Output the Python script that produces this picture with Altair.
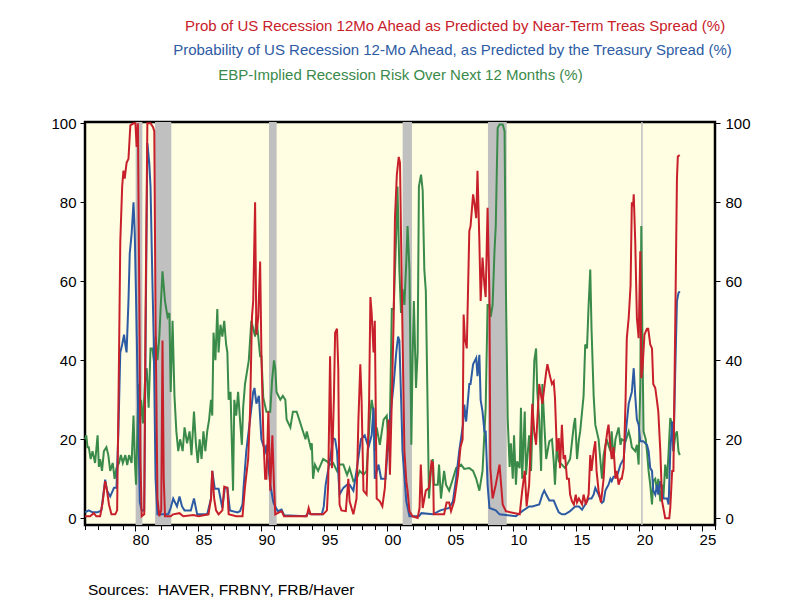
import altair as alt
import pandas as pd

# ---------------- data ----------------
red_t = [1976.0, 1976.4, 1976.7, 1976.9, 1977.2, 1977.4, 1977.6, 1977.75, 1977.9, 1978.1, 1978.4, 1978.55,
         1978.7, 1978.8, 1978.95, 1979.05, 1979.15, 1979.3, 1979.45, 1979.6, 1979.85, 1980.0, 1980.1, 1980.2,
         1980.3, 1980.4, 1980.5, 1980.7, 1980.8, 1980.95, 1981.2, 1981.4, 1981.5, 1981.6, 1981.75, 1981.9,
         1982.05, 1982.15, 1982.25, 1982.35, 1982.8, 1983.0, 1983.5, 1983.8, 1984.6, 1985.0, 1985.8, 1986.0,
         1986.1, 1986.25, 1986.4, 1986.6, 1986.9, 1987.05, 1987.3, 1987.4, 1988.0, 1988.5, 1988.7, 1988.95,
         1989.1, 1989.25, 1989.35, 1989.5, 1989.6, 1989.75, 1989.9, 1990.0, 1990.15, 1990.3, 1990.4, 1990.55,
         1990.7, 1990.87, 1991.0, 1991.1, 1991.6, 1991.8, 1993.6, 1993.75, 1993.9, 1994.9, 1995.2, 1995.3,
         1995.45, 1995.6, 1995.75, 1995.85, 1996.0, 1996.1, 1996.2, 1996.35, 1996.7, 1996.9, 1997.0, 1997.3,
         1997.55, 1997.7, 1997.85, 1997.95, 1998.1, 1998.35, 1998.55, 1998.65, 1998.75, 1998.9, 1999.0,
         1999.15, 1999.4, 1999.6, 1999.8, 1999.95, 2000.1, 2000.2, 2000.35, 2000.5, 2000.6, 2000.75, 2000.9,
         2001.0, 2001.08, 2001.2, 2001.35, 2001.5, 2001.6, 2001.75, 2002.0, 2002.4, 2002.55, 2002.65, 2002.8,
         2003.05, 2003.3, 2003.5, 2003.62, 2003.68, 2004.5, 2004.7, 2004.9, 2005.05, 2005.3, 2005.6, 2005.8,
         2005.97, 2006.05, 2006.15, 2006.3, 2006.5, 2006.6, 2006.8, 2006.9, 2007.05, 2007.15, 2007.3, 2007.4,
         2007.55, 2007.7, 2007.8, 2007.95, 2008.1, 2008.17, 2008.35, 2008.6, 2008.9, 2009.15, 2009.4, 2010.5,
         2010.7, 2010.9, 2011.05, 2011.25, 2011.5, 2011.65, 2011.8, 2012.05, 2012.3, 2012.6, 2012.7, 2012.9,
         2013.06, 2013.2, 2013.3, 2013.45, 2013.6, 2013.7, 2013.85, 2013.98, 2014.1, 2014.25, 2014.4, 2014.5,
         2014.65, 2014.8, 2014.95, 2015.05, 2015.2, 2015.45, 2015.57, 2015.75, 2015.97, 2016.1, 2016.2,
         2016.37, 2016.5, 2016.6, 2016.76, 2016.95, 2017.16, 2017.3, 2017.45, 2017.55, 2017.7, 2017.8,
         2017.95, 2018.1, 2018.2, 2018.35, 2018.5, 2018.6, 2018.75, 2018.9, 2019.0, 2019.15, 2019.3, 2019.4,
         2019.5, 2019.55, 2019.67, 2019.8, 2019.94, 2020.07, 2020.15, 2020.25, 2020.4, 2020.6, 2020.7,
         2020.86, 2021.0, 2021.1, 2021.26, 2021.4, 2021.5, 2021.66, 2021.8, 2021.9, 2022.05, 2022.37,
         2022.45, 2022.6, 2022.7, 2022.85, 2022.98, 2023.05, 2023.2]
red_v = [0.5, 0.5, 1.3, 0.5, 0.5, 4, 9.4, 7, 3.5, 1, 1, 2,
         41, 70, 84, 88, 86, 90, 91, 99.5, 100, 100, 94, 100,
         60, 15, 0.5, 1, 50, 100, 100, 99, 98, 50, 5, 0.5,
         2, 45, 10, 0.5, 0.5, 1, 1.3, 0.5, 0.8, 0.5, 1, 5,
         12, 5, 2, 1, 2, 8, 7.7, 1, 0.5, 0.5, 8, 15,
         27, 51, 55, 80, 46.5, 51, 65, 42, 21, 10, 10, 27,
         7, 21, 8.5, 1, 1.8, 0.5, 0.5, 2.6, 1, 1, 2, 8.5,
         41, 12.7, 30, 47, 48, 38, 3.5, 2, 1.8, 10, 4.3, 1,
         5, 25, 39, 30, 7, 6, 30, 56, 52, 42, 50,
         5, 4.3, 3, 7.7, 17, 25, 11, 30, 51, 76, 87, 91.5,
         90, 72, 46.5, 17, 9.4, 7, 1.8, 0.5, 0.1, 2.6, 13.6, 2.6,
         7, 7.7, 14.4, 14, 1, 1, 4, 4, 1.8, 4.3, 11, 18,
         20, 51.6, 45.6, 43, 72.7, 74, 82, 80, 76, 88, 70, 55,
         66, 59, 56, 78.6, 56, 12.7, 5, 8.5, 13.6, 3.5, 1.8, 1,
         7, 12, 3, 8.5, 29, 22, 18.6, 34, 29, 37, 39, 36,
         34, 34.7, 30.5, 17, 20.3, 12.7, 23.7, 15, 16, 10, 10, 6,
         4.3, 3.5, 6, 4, 5, 3.5, 6, 3.5, 6, 16, 12,
         17, 19.5, 12, 7, 4, 10, 18, 22, 23.7, 18, 15,
         18, 10, 12, 8.5, 10, 10, 12.7, 29.6, 45.6, 50.7, 59, 80,
         79, 82, 70, 50.7, 45.6, 67.6, 35.5, 38, 46.5, 48, 48,
         44, 43, 34, 33, 29.6, 27, 17, 4.3, 2.6, 0, 0,
         2.6, 12, 12, 50.7, 86, 91.6, 92]

blue_t = [1976.0, 1976.3, 1976.6, 1977.0, 1977.3, 1977.6, 1977.75, 1978.0, 1978.3, 1978.5, 1978.65, 1978.8,
          1978.95, 1979.1, 1979.2, 1979.3, 1979.45, 1979.55, 1979.7, 1979.85, 1979.95, 1980.05, 1980.2,
          1980.35, 1980.5, 1980.7, 1980.85, 1980.95, 1981.1, 1981.2, 1981.35, 1981.45, 1981.6, 1981.75,
          1982.6, 1982.8, 1983.0, 1983.3, 1983.5, 1983.7, 1983.9, 1984.4, 1984.65, 1984.9, 1985.7, 1986.0,
          1986.1, 1986.3, 1986.6, 1986.9, 1987.1, 1987.3, 1987.5, 1988.1, 1988.3, 1988.5, 1988.6, 1988.8,
          1989.1, 1989.35, 1989.45, 1989.6, 1989.8, 1990.0, 1990.3, 1990.4, 1990.7, 1990.95, 1991.1, 1991.3,
          1991.6, 1991.8, 1993.5, 1993.7, 1994.0, 1994.8, 1994.95, 1995.1, 1995.45, 1995.7, 1995.85, 1996.0,
          1996.2, 1996.5, 1996.8, 1997.0, 1997.3, 1997.55, 1997.9, 1998.2, 1998.5, 1998.75, 1998.9, 1999.0,
          1999.3, 1999.5, 1999.85, 2000.2, 2000.5, 2000.7, 2000.85, 2000.95, 2001.1, 2001.2, 2001.5, 2001.75,
          2002.5, 2002.7, 2003.6, 2004.2, 2004.9, 2005.2, 2005.45, 2005.7, 2006.0, 2006.1, 2006.25, 2006.5,
          2006.6, 2006.8, 2007.05, 2007.15, 2007.3, 2007.4, 2007.55, 2007.7, 2007.8, 2007.95, 2008.1, 2008.6,
          2008.9, 2010.2, 2010.7, 2011.25, 2011.5, 2012.05, 2012.3, 2012.45, 2012.6, 2012.85, 2013.2, 2013.45,
          2013.6, 2013.85, 2014.1, 2014.5, 2014.9, 2015.2, 2015.45, 2015.7, 2015.97, 2016.2, 2016.37, 2016.5,
          2016.76, 2017.03, 2017.16, 2017.3, 2017.55, 2017.7, 2017.8, 2017.95, 2018.2, 2018.35, 2018.5,
          2018.75, 2018.9, 2019.15, 2019.4, 2019.55, 2019.67, 2019.8, 2019.94, 2020.07, 2020.3, 2020.6,
          2020.73, 2020.86, 2021.0, 2021.1, 2021.26, 2021.4, 2021.5, 2021.66, 2021.8, 2021.9, 2022.2,
          2022.32, 2022.45, 2022.6, 2022.7, 2022.85, 2022.98, 2023.1, 2023.2]
blue_v = [1.5, 2, 1.5, 1.5, 2, 9.8, 7, 5.5, 7.7, 7.7, 22, 42,
          44, 46.5, 44, 42, 55, 67, 72, 80, 72, 56, 30,
          4, 2, 2, 60, 95, 90, 84, 60, 46, 10, 1,
          1, 2.6, 5, 3, 5.5, 3, 2, 2, 5, 1, 1, 5,
          12, 7.5, 7.5, 2.6, 7.7, 7.7, 2, 1.5, 1.8, 3.5, 8.5, 17,
          25, 32, 33, 29, 31, 20, 17, 18.6, 8.5, 4, 3, 1.8,
          2.2, 0.8, 0.5, 1.3, 1, 1, 3, 8.5, 15, 20.3, 20, 17,
          6, 7.7, 8.5, 8.5, 7, 12, 20, 21, 18, 21, 28, 10,
          13.6, 10, 10, 25, 34, 42, 46, 45, 29, 17, 4.3, 0.5,
          0.5, 1.3, 1, 2, 2.6, 4.3, 10, 17, 23.7, 28.8, 24.5, 34,
          34, 39, 40.6, 36, 41.4, 30, 27, 22, 22, 8.5, 2.6, 2,
          1, 0.5, 1.8, 3, 3, 3.5, 6, 7, 6, 4.5, 4.5, 2.6,
          1.5, 1, 1, 1.8, 3, 3, 2.2, 3.5, 5, 5, 6, 7.7,
          6, 3.9, 4.3, 7, 8.5, 10, 9.4, 10.5, 10.5, 12, 13.6,
          15, 21, 29, 32, 38, 31, 25, 23.7, 19.5, 19.5, 18.6,
          17, 12.7, 12, 7, 6, 8.5, 6, 9.4, 7, 5, 5,
          3.5, 17, 24.5, 17, 38, 55, 57, 57.5]

green_t = [1976.0, 1976.1, 1976.2, 1976.3, 1976.45, 1976.6, 1976.8, 1977.0, 1977.1, 1977.2, 1977.35, 1977.5,
           1977.7, 1977.85, 1978.0, 1978.2, 1978.35, 1978.5, 1978.7, 1978.85, 1979.0, 1979.2, 1979.35, 1979.5,
           1979.7, 1979.85, 1979.95, 1980.05, 1980.15, 1980.25, 1980.35, 1980.45, 1980.6, 1980.75, 1980.9,
           1981.05, 1981.2, 1981.35, 1981.5, 1981.6, 1981.75, 1981.9, 1982.0, 1982.15, 1982.35, 1982.55,
           1982.7, 1982.8, 1982.95, 1983.1, 1983.25, 1983.4, 1983.55, 1983.75, 1983.9, 1984.1, 1984.3,
           1984.45, 1984.65, 1984.8, 1984.95, 1985.1, 1985.25, 1985.4, 1985.55, 1985.7, 1985.85, 1986.0,
           1986.1, 1986.2, 1986.35, 1986.5, 1986.6, 1986.75, 1986.9, 1987.05, 1987.2, 1987.3, 1987.4, 1987.55,
           1987.75, 1987.85, 1988.0, 1988.15, 1988.3, 1988.45, 1988.55, 1988.7, 1988.85, 1989.0, 1989.2,
           1989.35, 1989.5, 1989.6, 1989.75, 1989.9, 1990.0, 1990.15, 1990.4, 1990.7, 1990.85, 1991.0, 1991.1,
           1991.2, 1991.5, 1991.7, 1991.9, 1992.0, 1992.3, 1992.5, 1992.8, 1993.0, 1993.2, 1993.5, 1993.6,
           1993.9, 1994.0, 1994.1, 1994.25, 1994.5, 1994.7, 1994.9, 1995.2, 1995.45, 1995.7, 1996.0, 1996.2,
           1996.5, 1996.8, 1997.0, 1997.3, 1997.55, 1997.8, 1998.1, 1998.35, 1998.6, 1998.75, 1998.9, 1999.0,
           1999.15, 1999.4, 1999.7, 1999.95, 2000.1, 2000.2, 2000.35, 2000.5, 2000.7, 2000.8, 2000.95, 2001.08,
           2001.2, 2001.35, 2001.5, 2001.6, 2001.75, 2001.9, 2002.0, 2002.1, 2002.27, 2002.4, 2002.5, 2002.67,
           2002.8, 2002.93, 2003.05, 2003.2, 2003.3, 2003.45, 2003.6, 2003.7, 2004.0, 2004.1, 2004.25, 2004.5,
           2004.65, 2004.9, 2005.2, 2005.45, 2005.85, 2006.1, 2006.5, 2006.8, 2007.05, 2007.3, 2007.55, 2007.8,
           2007.95, 2008.1, 2008.2, 2008.35, 2008.5, 2008.6, 2008.75, 2008.9, 2009.15, 2009.3, 2009.4, 2009.55,
           2009.7, 2009.8, 2009.95, 2010.05, 2010.2, 2010.3, 2010.5, 2010.6, 2010.7, 2010.9, 2011.0, 2011.25,
           2011.4, 2011.66, 2011.8, 2011.9, 2012.05, 2012.2, 2012.3, 2012.45, 2012.6, 2012.85, 2013.06, 2013.2,
           2013.3, 2013.45, 2013.6, 2013.85, 2014.1, 2014.5, 2014.8, 2014.9, 2015.05, 2015.2, 2015.3, 2015.45,
           2015.57, 2015.7, 2015.84, 2015.97, 2016.1, 2016.2, 2016.37, 2016.5, 2016.76, 2017.03, 2017.16,
           2017.4, 2017.7, 2017.8, 2017.95, 2018.1, 2018.35, 2018.5, 2018.6, 2018.9, 2019.15, 2019.3, 2019.4,
           2019.67, 2019.8, 2019.94, 2020.07, 2020.15, 2020.25, 2020.33, 2020.5, 2020.6, 2020.73, 2020.86,
           2021.0, 2021.1, 2021.26, 2021.4, 2021.5, 2021.66, 2021.8, 2021.9, 2022.05, 2022.2, 2022.32, 2022.45,
           2022.6, 2022.7, 2022.85, 2022.98, 2023.1, 2023.2]
green_v = [20, 21, 18, 18, 15, 17, 14, 21, 13, 15, 12, 17,
           18, 16, 12, 14, 10, 12.7, 14, 16, 14, 16, 13.5, 16,
           14, 26, 15, 8.5, 21, 34, 24, 30, 24, 34, 38,
           28, 43, 43, 39, 46, 40, 46, 53, 62.5, 55, 51,
           52, 32, 50, 31, 22, 17, 20, 17, 23, 19, 22,
           16, 27, 19, 14, 20, 15, 22, 17, 22, 25, 30,
           26, 47, 40, 53, 42, 49, 46, 50, 44, 42, 30, 32,
           7, 30, 26, 32, 25, 18.6, 28, 34, 37, 40, 50,
           48, 46, 51, 46, 41, 41, 30.5, 27, 27, 35, 40, 38,
           32, 30, 31, 30, 25, 23, 27, 27, 25, 23, 20, 22,
           18, 19, 10, 13.6, 12, 13.5, 15, 14.4, 13.6, 14, 12, 13.6,
           13.6, 11, 12.7, 9.4, 10, 12, 11, 12, 25, 30, 27, 17,
           23, 18.6, 25, 26, 17, 25, 53, 53, 72, 84, 63, 52,
           58, 54, 65, 74, 63, 18.6, 40.6, 55, 33, 42, 84, 87,
           83, 63, 57.5, 26, 5, 12, 15, 8.5, 8.5, 13.6, 5, 12,
           8.5, 7, 10, 12.7, 13.6, 12.5, 12.7, 12, 10, 7, 12, 28,
           54, 54, 51, 54, 67.6, 74, 98.8, 99.7, 99.7, 98, 59, 25,
           13, 19, 10, 21, 8.5, 14.4, 12.7, 28, 10, 27, 11, 21,
           12, 40, 43, 32, 25, 12, 34, 24, 15, 19.5, 20, 14.4,
           8.5, 18.6, 14.4, 13.6, 12.7, 15, 23.7, 25.4, 15, 20, 22, 27,
           31, 44, 43, 54, 63, 48, 31, 23.7, 20, 10, 16,
           20, 17, 22, 15, 20, 23, 18.6, 20, 19.5, 22, 20, 18,
           17, 18.6, 13.6, 34, 74, 42, 22, 20, 17, 12, 8.5,
           3.5, 9.4, 10, 7, 10, 4.3, 8.5, 5, 13.6, 10, 17, 25.4,
           23.7, 17, 21, 22, 17, 16]

rec_start = [1980.02, 1981.56, 1990.60, 2001.21, 2007.98, 2020.14]
rec_end = [1980.55, 1982.85, 1991.21, 2001.95, 2009.47, 2020.26]

major_years = list(range(1980, 2026, 5))
minor_years = list(range(1976, 2027))
y_ticks = [0, 20, 40, 60, 80, 100]

title_red = "Prob of US Recession 12Mo Ahead as Predicted by Near-Term Treas Spread (%)"
title_blue = "Probability of US Recession 12-Mo Ahead, as Predicted by the Treasury Spread (%)"
title_green = "EBP-Implied Recession Risk Over Next 12 Months (%)"
source_text = "Sources:\u00a0\u00a0HAVER, FRBNY, FRB/Haver"

# ---------------- styling ----------------
RED = "#C8202A"
BLUE = "#2D5BA3"
GREEN = "#3A8A4A"
FONT = "Liberation Sans"
W, H = 630, 403

xs = alt.Scale(domain=[1976, 2026], nice=False, zero=False)
ys = alt.Scale(domain=[-1.7, 100.33], nice=False, zero=False)

df_red = pd.DataFrame({"t": red_t, "v": red_v})
df_blue = pd.DataFrame({"t": blue_t, "v": blue_v})
df_green = pd.DataFrame({"t": green_t, "v": green_v})
df_rec = pd.DataFrame({"s": rec_start, "e": rec_end})
one = pd.DataFrame({"k": [0]})

common_axis = dict(grid=False, domain=False, tickColor="black", labelColor="black",
                   labelFont=FONT, labelFontSize=15, title=None, labelFlush=False,
                   tickWidth=1)

rec = alt.Chart(df_rec).mark_rect(color="#C0C0C0").encode(
    x=alt.X("s:Q", scale=xs, axis=None),
    x2="e:Q",
)

green = alt.Chart(df_green).mark_line(color=GREEN, strokeWidth=2).encode(
    x=alt.X("t:Q", scale=xs, axis=alt.Axis(values=major_years, format="d",
                                           labelExpr="substring(datum.label, 2, 4)",
                                           tickSize=6, labelOffset=5, labelPadding=1,
                                           orient="bottom", **common_axis)),
    y=alt.Y("v:Q", scale=ys, axis=alt.Axis(values=y_ticks, orient="left", tickSize=5,
                                           labelPadding=4, **common_axis)),
)

blue = alt.Chart(df_blue).mark_line(color=BLUE, strokeWidth=2).encode(
    x=alt.X("t:Q", scale=xs, axis=alt.Axis(values=minor_years, labels=False, tickSize=4.5,
                                           orient="bottom", **common_axis)),
    y=alt.Y("v:Q", scale=ys, axis=None),
)

red = alt.Chart(df_red).mark_line(color=RED, strokeWidth=2).encode(
    x=alt.X("t:Q", scale=xs, axis=None),
    y=alt.Y("v:Q", scale=ys, axis=alt.Axis(values=y_ticks, orient="right", tickSize=5,
                                           labelPadding=5, **common_axis)),
)

def label(txt, color, px, py, align="center", size=15):
    return alt.Chart(one).mark_text(text=txt, color=color, font=FONT, fontSize=size,
                                    align=align, baseline="middle").encode(
        x=alt.value(px), y=alt.value(py))

t1 = label(title_red, RED, 370, -96.5)
t2 = label(title_blue, BLUE, 367.5, -72.5)
t3 = label(title_green, GREEN, 315.5, -47.5)
src = label(source_text, "black", 3, 468, align="left", size=15.5)

chart = alt.layer(rec, green, blue, red, t1, t2, t3, src).resolve_axis(
    x="independent", y="independent"
).properties(
    width=W, height=H,
    autosize=alt.AutoSizeParams(type="none"),
    padding={"left": 85, "top": 122, "right": 85, "bottom": 75},
    background="white",
).configure_view(
    fill="#FFFEE3", stroke="black", strokeWidth=2.5
)

chart.save("out.html", embed_options={"renderer": "svg", "actions": False})
